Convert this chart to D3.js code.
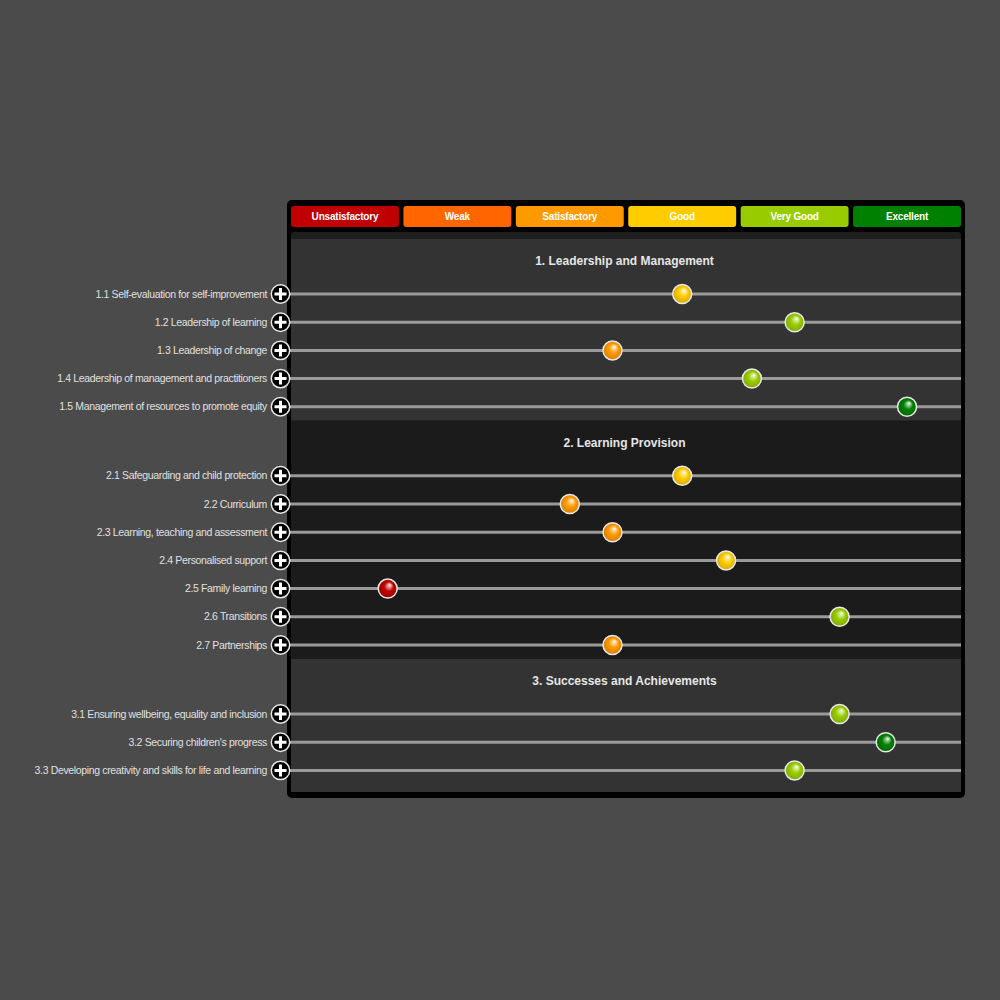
<!DOCTYPE html>
<html>
<head>
<meta charset="utf-8">
<script src="https://cdn.jsdelivr.net/npm/d3@7"></script>
<style>
  html, body { margin: 0; padding: 0; background: #4b4b4b; }
  svg { display: block; font-family: "Liberation Sans", Arial, sans-serif; }
</style>
</head>
<body>
<svg id="chart"></svg>
<script>
// rating categories and their colours
const categories = ['Unsatisfactory', 'Weak', 'Satisfactory', 'Good', 'Very Good', 'Excellent'];
const catColors = ['#c00000', '#ff6600', '#ff9900', '#ffcc00', '#99cc00', '#008000'];

// sections
const sections = ['1. Leadership and Management', '2. Learning Provision', '3. Successes and Achievements'];

// items: section index, label, score (1 = Unsatisfactory .. 6 = Excellent)
const itemSection = [0, 0, 0, 0, 0, 1, 1, 1, 1, 1, 1, 1, 2, 2, 2];
const itemLabels = [
    '1.1 Self-evaluation for self-improvement',
    '1.2 Leadership of learning',
    '1.3 Leadership of change',
    '1.4 Leadership of management and practitioners',
    '1.5 Management of resources to promote equity',
    '2.1 Safeguarding and child protection',
    '2.2 Curriculum',
    '2.3 Learning, teaching and assessment',
    '2.4 Personalised support',
    '2.5 Family learning',
    '2.6 Transitions',
    '2.7 Partnerships',
    '3.1 Ensuring wellbeing, equality and inclusion',
    "3.2 Securing children's progress",
    '3.3 Developing creativity and skills for life and learning'
];
const itemScores = [4, 5, 3.38, 4.62, 6, 4, 3, 3.38, 4.39, 1.38, 5.4, 3.38, 5.4, 5.81, 5];

const width = 1000, height = 1000;
const panel = { x: 287, y: 200, w: 678, h: 598 };
const inner = { x0: 291, x1: 961 };
const headH = 55, rowStep = 28.2, tailH = 14;

const svg = d3.select('#chart').attr('width', width).attr('height', height);
const defs = svg.append('defs');

// glossy ball gradients
catColors.forEach((c, i) => {
    const g = defs.append('radialGradient')
        .attr('id', 'ball' + i)
        .attr('cx', '50%').attr('cy', '50%').attr('r', '50%')
        .attr('fx', '62%').attr('fy', '30%');
    g.append('stop').attr('offset', '0%').attr('stop-color', '#ffffff');
    g.append('stop').attr('offset', '18%').attr('stop-color', d3.interpolateRgb(c, '#fff')(0.6));
    g.append('stop').attr('offset', '50%').attr('stop-color', c);
    g.append('stop').attr('offset', '100%').attr('stop-color', d3.color(c).darker(0.5));
});

// outer black panel
svg.append('rect')
    .attr('x', panel.x).attr('y', panel.y)
    .attr('width', panel.w).attr('height', panel.h)
    .attr('rx', 5)
    .attr('fill', '#000');

// header buttons
const xBand = d3.scaleBand()
    .domain(categories)
    .range([inner.x0, inner.x1])
    .paddingInner(0.04)
    .paddingOuter(0.0);

const head = svg.append('g').selectAll('g')
    .data(categories)
    .join('g');

head.append('rect')
    .attr('x', d => xBand(d))
    .attr('y', 206)
    .attr('width', xBand.bandwidth())
    .attr('height', 21)
    .attr('rx', 3)
    .attr('fill', (d, i) => catColors[i]);

head.append('text')
    .attr('x', d => xBand(d) + xBand.bandwidth() / 2)
    .attr('y', 216.5)
    .attr('dy', '0.35em')
    .attr('text-anchor', 'middle')
    .attr('font-size', 10)
    .attr('font-weight', 'bold')
    .attr('letter-spacing', '-0.2px')
    .attr('fill', '#fff')
    .text(d => d);

// score scale: category centres
const xScore = d3.scaleLinear()
    .domain([1, 6])
    .range([xBand(categories[0]) + xBand.bandwidth() / 2, xBand(categories[5]) + xBand.bandwidth() / 2]);

// vertical layout from section sizes
const secCounts = sections.map((s, i) => itemSection.filter(k => k === i).length);
const secTop = [];
let yCur = 239;
secCounts.forEach(n => {
    secTop.push(yCur);
    yCur += headH + (n - 1) * rowStep + tailH;
});
const itemY = itemLabels.map((d, i) => {
    const s = itemSection[i];
    const idx = itemSection.slice(0, i).filter(k => k === s).length;
    return secTop[s] + headH + idx * rowStep;
});

// dark strip on top of content area
svg.append('rect')
    .attr('x', inner.x0).attr('y', 232)
    .attr('width', inner.x1 - inner.x0).attr('height', 10)
    .attr('rx', 3)
    .attr('fill', '#1e1e1e');

// section backgrounds
const panelBottom = 792;
svg.append('g').selectAll('rect')
    .data(sections)
    .join('rect')
    .attr('x', inner.x0)
    .attr('y', (d, i) => secTop[i])
    .attr('width', inner.x1 - inner.x0)
    .attr('height', (d, i) => (i < sections.length - 1 ? secTop[i + 1] : panelBottom) - secTop[i])
    .attr('fill', (d, i) => i % 2 === 0 ? '#333333' : '#1b1b1b');

svg.append('g').selectAll('text')
    .data(sections)
    .join('text')
    .attr('x', (inner.x0 + inner.x1) / 2 - 1.5)
    .attr('y', (d, i) => secTop[i] + 22)
    .attr('dy', '0.35em')
    .attr('text-anchor', 'middle')
    .attr('font-size', 12)
    .attr('font-weight', 'bold')
    .attr('fill', '#e6e6e6')
    .text(d => d);

// rows
const rows = svg.append('g').selectAll('g')
    .data(itemLabels)
    .join('g')
    .attr('transform', (d, i) => `translate(0, ${itemY[i]})`);

rows.append('line')
    .attr('x1', 288)
    .attr('x2', inner.x1)
    .attr('stroke', '#9a9a9a')
    .attr('stroke-width', 3);

rows.append('text')
    .attr('x', 267)
    .attr('dy', '0.35em')
    .attr('text-anchor', 'end')
    .attr('font-size', 10.5)
    .attr('letter-spacing', '-0.35px')
    .attr('fill', '#e0e0e0')
    .text(d => d);

// plus buttons
rows.append('circle')
    .attr('cx', 280.5)
    .attr('r', 9.2)
    .attr('fill', '#000')
    .attr('stroke', '#e8e8e8')
    .attr('stroke-width', 1.5);

rows.append('path')
    .attr('d', 'M274.5,0H286.5M280.5,-6V6')
    .attr('stroke', '#fff')
    .attr('stroke-width', 3);

// score balls
const catIndex = v => Math.max(0, Math.min(5, Math.round(v) - 1));
rows.append('circle')
    .attr('cx', (d, i) => xScore(itemScores[i]))
    .attr('r', 9.5)
    .attr('fill', (d, i) => `url(#ball${catIndex(itemScores[i])})`)
    .attr('stroke', '#e8e8e8')
    .attr('stroke-width', 1.5);
</script>
</body>
</html>
